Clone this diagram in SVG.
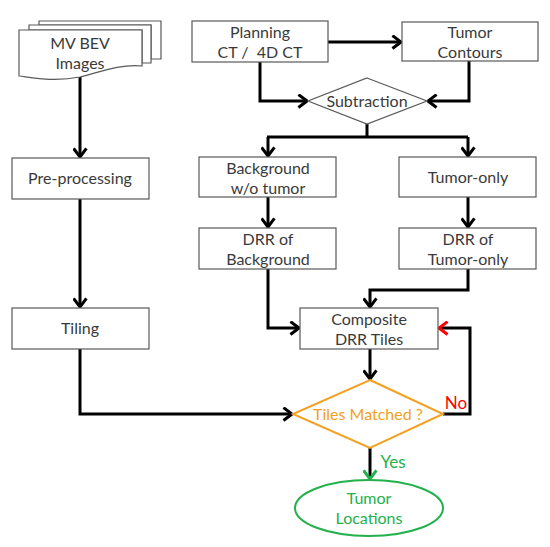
<svg xmlns="http://www.w3.org/2000/svg" width="550" height="547" viewBox="0 0 550 547">
<style>
.box{fill:#fff;stroke:#595959;stroke-width:1.2}
.t{font-family:Lato,"Liberation Sans",sans-serif;font-size:16px;fill:#3a3a3a;text-anchor:middle}
.c{fill:none;stroke:#000;stroke-width:3}
</style>
<defs>
<marker id="ab" viewBox="0 0 10 14" refX="9" refY="7" markerWidth="11" markerHeight="15" markerUnits="userSpaceOnUse" orient="auto"><path d="M1,1 L9,7 L1,13" fill="none" stroke="#000" stroke-width="2.8"/></marker>
<marker id="ar" viewBox="0 0 10 14" refX="9" refY="7" markerWidth="11" markerHeight="15" markerUnits="userSpaceOnUse" orient="auto"><path d="M1,1 L9,7 L1,13" fill="none" stroke="#ff0000" stroke-width="2.8"/></marker>
<marker id="ag" viewBox="0 0 10 14" refX="9" refY="7" markerWidth="11" markerHeight="15" markerUnits="userSpaceOnUse" orient="auto"><path d="M1,1 L9,7 L1,13" fill="none" stroke="#22b14c" stroke-width="2.8"/></marker>
</defs>
<rect width="550" height="547" fill="#fff"/>
<g id="connectors">
<path class="c" d="M80,77 V157" marker-end="url(#ab)"/>
<path class="c" d="M80,199 V307" marker-end="url(#ab)"/>
<path class="c" d="M80,349 V414 H292" marker-end="url(#ab)"/>
<path class="c" d="M328,42 H401" marker-end="url(#ab)"/>
<path class="c" d="M260,62 V101 H307" marker-end="url(#ab)"/>
<path class="c" d="M469,61 V101 H428" marker-end="url(#ab)"/>
<path class="c" d="M367,124 V137"/>
<path class="c" d="M267,137 H468"/>
<path class="c" d="M268,137 V156" marker-end="url(#ab)"/>
<path class="c" d="M468,137 V156" marker-end="url(#ab)"/>
<path class="c" d="M268,197 V227" marker-end="url(#ab)"/>
<path class="c" d="M468,197 V227" marker-end="url(#ab)"/>
<path class="c" d="M268,269 V328 H299" marker-end="url(#ab)"/>
<path class="c" d="M468,269 V290 H370 V307" marker-end="url(#ab)"/>
<path class="c" d="M370,349 V379" marker-end="url(#ab)"/>
<path class="c" d="M443,414 H470 V328 H439" stroke="#ff0000" marker-end="url(#ar)"/>
<path class="c" d="M370,448 V479" stroke="#22b14c" marker-end="url(#ag)"/>
<text class="t" x="456" y="409" style="fill:#ff0000;font-size:17px">No</text>
<text class="t" x="393" y="468" style="fill:#22b14c;font-size:17px">Yes</text>
</g>
<g id="mvbev">
<path class="box" d="M39,21 H161 V59 H151 V25 H39 Z"/>
<path class="box" d="M29,25 H151 V63 H142 V30 H29 Z"/>
<path class="box" d="M19,30 H142 V66 C120,64 100,72 80,77 C55,82 35,78 19,76 Z"/>
<text class="t" x="80" y="49">MV BEV</text>
<text class="t" x="80" y="69">Images</text>
</g>
<g id="preprocessing">
<rect class="box" x="12" y="158" width="137" height="41"/>
<text class="t" x="80" y="184">Pre-processing</text>
</g>
<g id="tiling">
<rect class="box" x="12" y="308" width="137" height="41"/>
<text class="t" x="80" y="334">Tiling</text>
</g>
<g id="planning">
<rect class="box" x="192" y="21" width="136" height="41"/>
<text class="t" x="260" y="38">Planning</text>
<text class="t" x="260" y="58">CT /&#160; 4D CT</text>
</g>
<g id="contours">
<rect class="box" x="402" y="22" width="136" height="39"/>
<text class="t" x="470" y="38">Tumor</text>
<text class="t" x="470" y="58">Contours</text>
</g>
<g id="subtraction">
<path class="box" d="M367,78 L427,101 L367,124 L308,101 Z"/>
<text class="t" x="367" y="107">Subtraction</text>
</g>
<g id="background">
<rect class="box" x="199" y="157" width="137" height="40"/>
<text class="t" x="268" y="174">Background</text>
<text class="t" x="268" y="194">w/o tumor</text>
</g>
<g id="tumoronly">
<rect class="box" x="399" y="157" width="137" height="40"/>
<text class="t" x="468" y="183">Tumor-only</text>
</g>
<g id="drrbg">
<rect class="box" x="199" y="228" width="137" height="41"/>
<text class="t" x="268" y="245">DRR of</text>
<text class="t" x="268" y="265">Background</text>
</g>
<g id="drrtumor">
<rect class="box" x="399" y="228" width="137" height="41"/>
<text class="t" x="468" y="245">DRR of</text>
<text class="t" x="468" y="265">Tumor-only</text>
</g>
<g id="composite">
<rect class="box" x="300" y="308" width="138" height="41"/>
<text class="t" x="369" y="325">Composite</text>
<text class="t" x="369" y="345">DRR Tiles</text>
</g>
<g id="matched">
<path d="M370,380 L443,414 L370,448 L293,414 Z" fill="#fff" stroke="#f4a020" stroke-width="2"/>
<text class="t" x="368" y="420" style="fill:#f4a020">Tiles Matched ?</text>
</g>
<g id="locations">
<ellipse cx="369" cy="508" rx="74" ry="28" fill="#fff" stroke="#22b14c" stroke-width="2"/>
<text class="t" x="369" y="504" style="fill:#22b14c">Tumor</text>
<text class="t" x="369" y="524" style="fill:#22b14c">Locations</text>
</g>
</svg>
